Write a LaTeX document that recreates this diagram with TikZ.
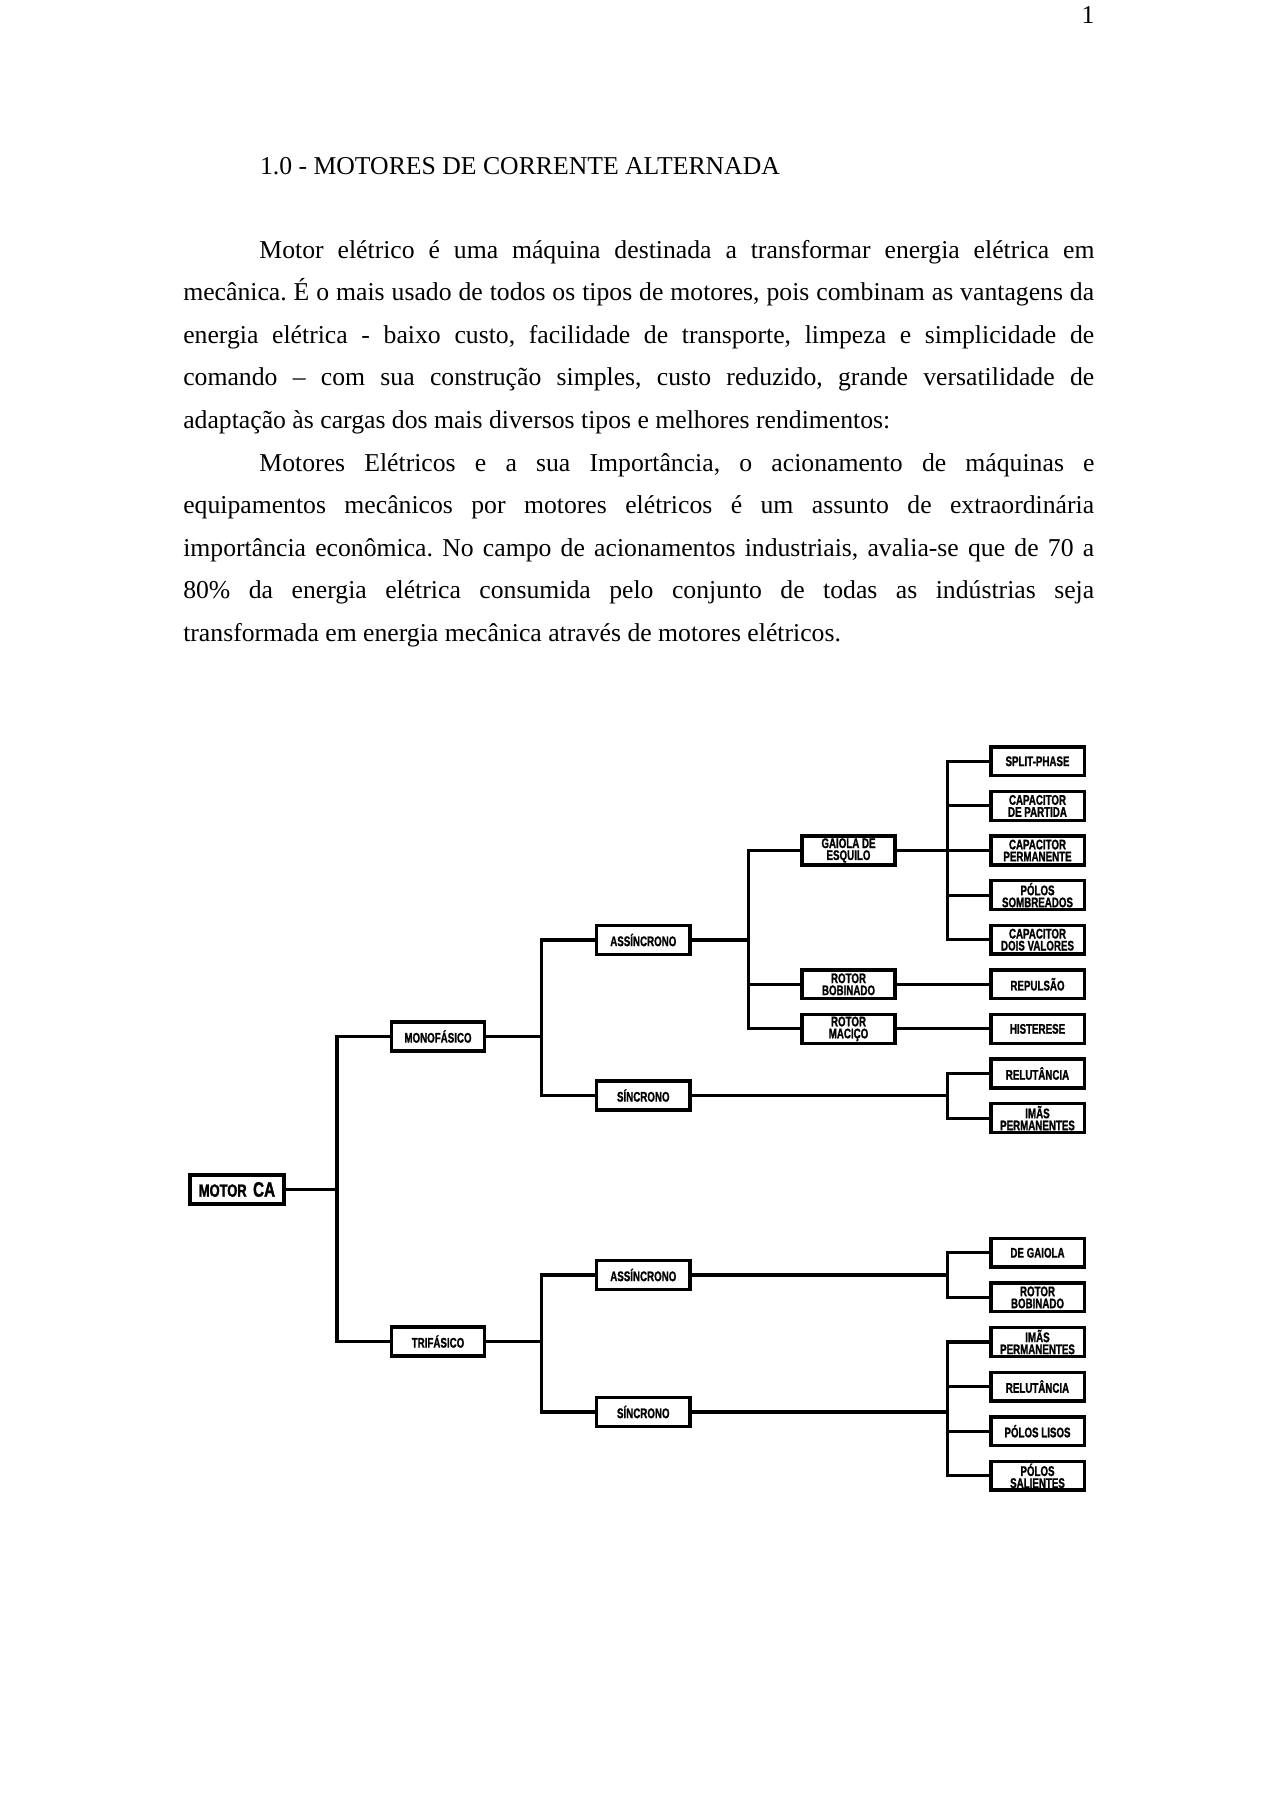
\documentclass[tikz,border=0pt]{standalone}
\usepackage{fontspec}
\setmainfont{Liberation Serif}
\newfontfamily\labf[FakeStretch=0.7,FakeBold=1.2]{Liberation Sans}
\newfontfamily\motf[FakeStretch=0.73,FakeBold=1.5]{Liberation Sans}
\newcommand\labfont{\labf\bfseries\fontsize{6.5pt}{5.6pt}\selectfont\lineskiplimit=-10pt\relax}
\newcommand\bodyfont{\fontsize{12pt}{14pt}\selectfont\frenchspacing}
\newcommand\jline[1]{\makebox[425.2pt][s]{#1}}
\newcommand\jiline[1]{\makebox[389.8pt][s]{#1}}
\tikzset{
  lbox/.style={draw, line width=1.6pt, minimum width=43.6pt, minimum height=13.4pt,
    inner sep=0pt, align=center, font=\labfont},
  mbox/.style={draw, line width=1.8pt, minimum width=43.8pt, minimum height=13.4pt,
    inner sep=0pt, align=center},
  conn/.style={line width=1.45pt, line join=miter},
  bodyline/.style={anchor=base west, inner sep=0pt, font=\bodyfont},
}
\begin{document}
\begin{tikzpicture}[x=0.1640625mm, y=-0.1640625mm]
\useasboundingbox (0,0) rectangle (1280,1811);
\fill[white] (0,0) rectangle (1280,1811);

% page number and title
\node[anchor=base, inner sep=0pt, font=\bodyfont] (pnum) at (1088,24) {1};
\node[bodyline] (title) at (259.6,174.5) {1.0 - MOTORES DE CORRENTE ALTERNADA};

% body text
\node[bodyline] (l1) at (259.05,258) {\jiline{Motor elétrico é uma máquina destinada a transformar energia elétrica em}};
\node[bodyline] (l2) at (182.86,300.6) {\jline{mecânica. É o mais usado de todos os tipos de motores, pois combinam as vantagens da}};
\node[bodyline] (l3) at (182.86,343.2) {\jline{energia elétrica - baixo custo, facilidade de transporte, limpeza e simplicidade de}};
\node[bodyline] (l4) at (182.86,385.8) {\jline{comando – com sua construção simples, custo reduzido, grande versatilidade de}};
\node[bodyline] (l5) at (182.86,428.4) {adaptação às cargas dos mais diversos tipos e melhores rendimentos:};
\node[bodyline] (l6) at (259.05,471) {\jiline{Motores Elétricos e a sua Importância, o acionamento de máquinas e}};
\node[bodyline] (l7) at (182.86,513.6) {\jline{equipamentos mecânicos por motores elétricos é um assunto de extraordinária}};
\node[bodyline] (l8) at (182.86,556.2) {\jline{importância econômica. No campo de acionamentos industriais, avalia-se que de 70 a}};
\node[bodyline] (l9) at (182.86,598.8) {\jline{80\% da energia elétrica consumida pelo conjunto de todas as indústrias seja}};
\node[bodyline] (l10) at (182.86,641.4) {transformada em energia mecânica através de motores elétricos.};

% diagram nodes
\node[mbox] (motor) at (237,1189.5) {\motf\bfseries\fontsize{8.25pt}{9pt}\selectfont MOTOR\hspace{3pt}\fontsize{9.75pt}{10pt}\selectfont CA};

\node[lbox] (mono) at (438,1036.5) {MONOFÁSICO};
\node[lbox] (tri) at (438,1341.5) {TRIFÁSICO};

\node[lbox] (massin) at (643.3,940) {ASSÍNCRONO};
\node[lbox] (msinc) at (643.3,1095.5) {SÍNCRONO};
\node[lbox] (tassin) at (643.3,1275) {ASSÍNCRONO};
\node[lbox] (tsinc) at (643.3,1412) {SÍNCRONO};

\node[lbox] (gaiola) at (848.5,850.5) {GAIOLA DE\\ESQUILO};
\node[lbox] (rbob) at (848.5,984.3) {ROTOR\\BOBINADO};
\node[lbox] (rmac) at (848.5,1028.9) {ROTOR\\MACIÇO};

\node[lbox] (split) at (1037.5,761.3) {SPLIT-PHASE};
\node[lbox] (cpart) at (1037.5,805.9) {CAPACITOR\\DE PARTIDA};
\node[lbox] (cperm) at (1037.5,850.5) {CAPACITOR\\PERMANENTE};
\node[lbox] (psomb) at (1037.5,895.1) {PÓLOS\\SOMBREADOS};
\node[lbox] (cdois) at (1037.5,939.7) {CAPACITOR\\DOIS VALORES};
\node[lbox] (repul) at (1037.5,984.3) {REPULSÃO};
\node[lbox] (hist) at (1037.5,1028.9) {HISTERESE};
\node[lbox] (relut1) at (1037.5,1073.5) {RELUTÂNCIA};
\node[lbox] (imas1) at (1037.5,1118.1) {IMÃS\\PERMANENTES};

\node[lbox] (degai) at (1037.5,1252.8) {DE GAIOLA};
\node[lbox] (trbob) at (1037.5,1297.4) {ROTOR\\BOBINADO};
\node[lbox] (imas2) at (1037.5,1342) {IMÃS\\PERMANENTES};
\node[lbox] (relut2) at (1037.5,1386.6) {RELUTÂNCIA};
\node[lbox] (plisos) at (1037.5,1431.2) {PÓLOS LISOS};
\node[lbox] (psal) at (1037.5,1475.8) {PÓLOS\\SALIENTES};

% junction columns
\coordinate (ja) at (337,0);
\coordinate (jb) at (541.5,0);
\coordinate (jc) at (748.3,0);
\coordinate (jd) at (947.7,0);

% connectors
\draw[conn] (motor.east) -- (motor.east -| ja);
\draw[conn] (mono.west) -- (mono.west -| ja) |- (tri.west);

\draw[conn] (mono.east) -- (mono.east -| jb);
\draw[conn] (massin.west) -- (massin.west -| jb) |- (msinc.west);
\draw[conn] (tri.east) -- (tri.east -| jb);
\draw[conn] (tassin.west) -- (tassin.west -| jb) |- (tsinc.west);

\draw[conn] (massin.east) -- (massin.east -| jc);
\draw[conn] (gaiola.west) -- (gaiola.west -| jc) |- (rmac.west);
\draw[conn] (rbob.west) -- (rbob.west -| jc);

\draw[conn] (gaiola.east) -- (cperm.west);
\draw[conn] (split.west) -- (split.west -| jd) |- (cdois.west);
\draw[conn] (cpart.west) -- (cpart.west -| jd);
\draw[conn] (psomb.west) -- (psomb.west -| jd);

\draw[conn] (rbob.east) -- (repul.west);
\draw[conn] (rmac.east) -- (hist.west);

\draw[conn] (msinc.east) -- (msinc.east -| jd);
\draw[conn] (relut1.west) -- (relut1.west -| jd) |- (imas1.west);

\draw[conn] (tassin.east) -- (tassin.east -| jd);
\draw[conn] (degai.west) -- (degai.west -| jd) |- (trbob.west);

\draw[conn] (tsinc.east) -- (tsinc.east -| jd);
\draw[conn] (imas2.west) -- (imas2.west -| jd) |- (psal.west);
\draw[conn] (relut2.west) -- (relut2.west -| jd);
\draw[conn] (plisos.west) -- (plisos.west -| jd);
\end{tikzpicture}
\end{document}
